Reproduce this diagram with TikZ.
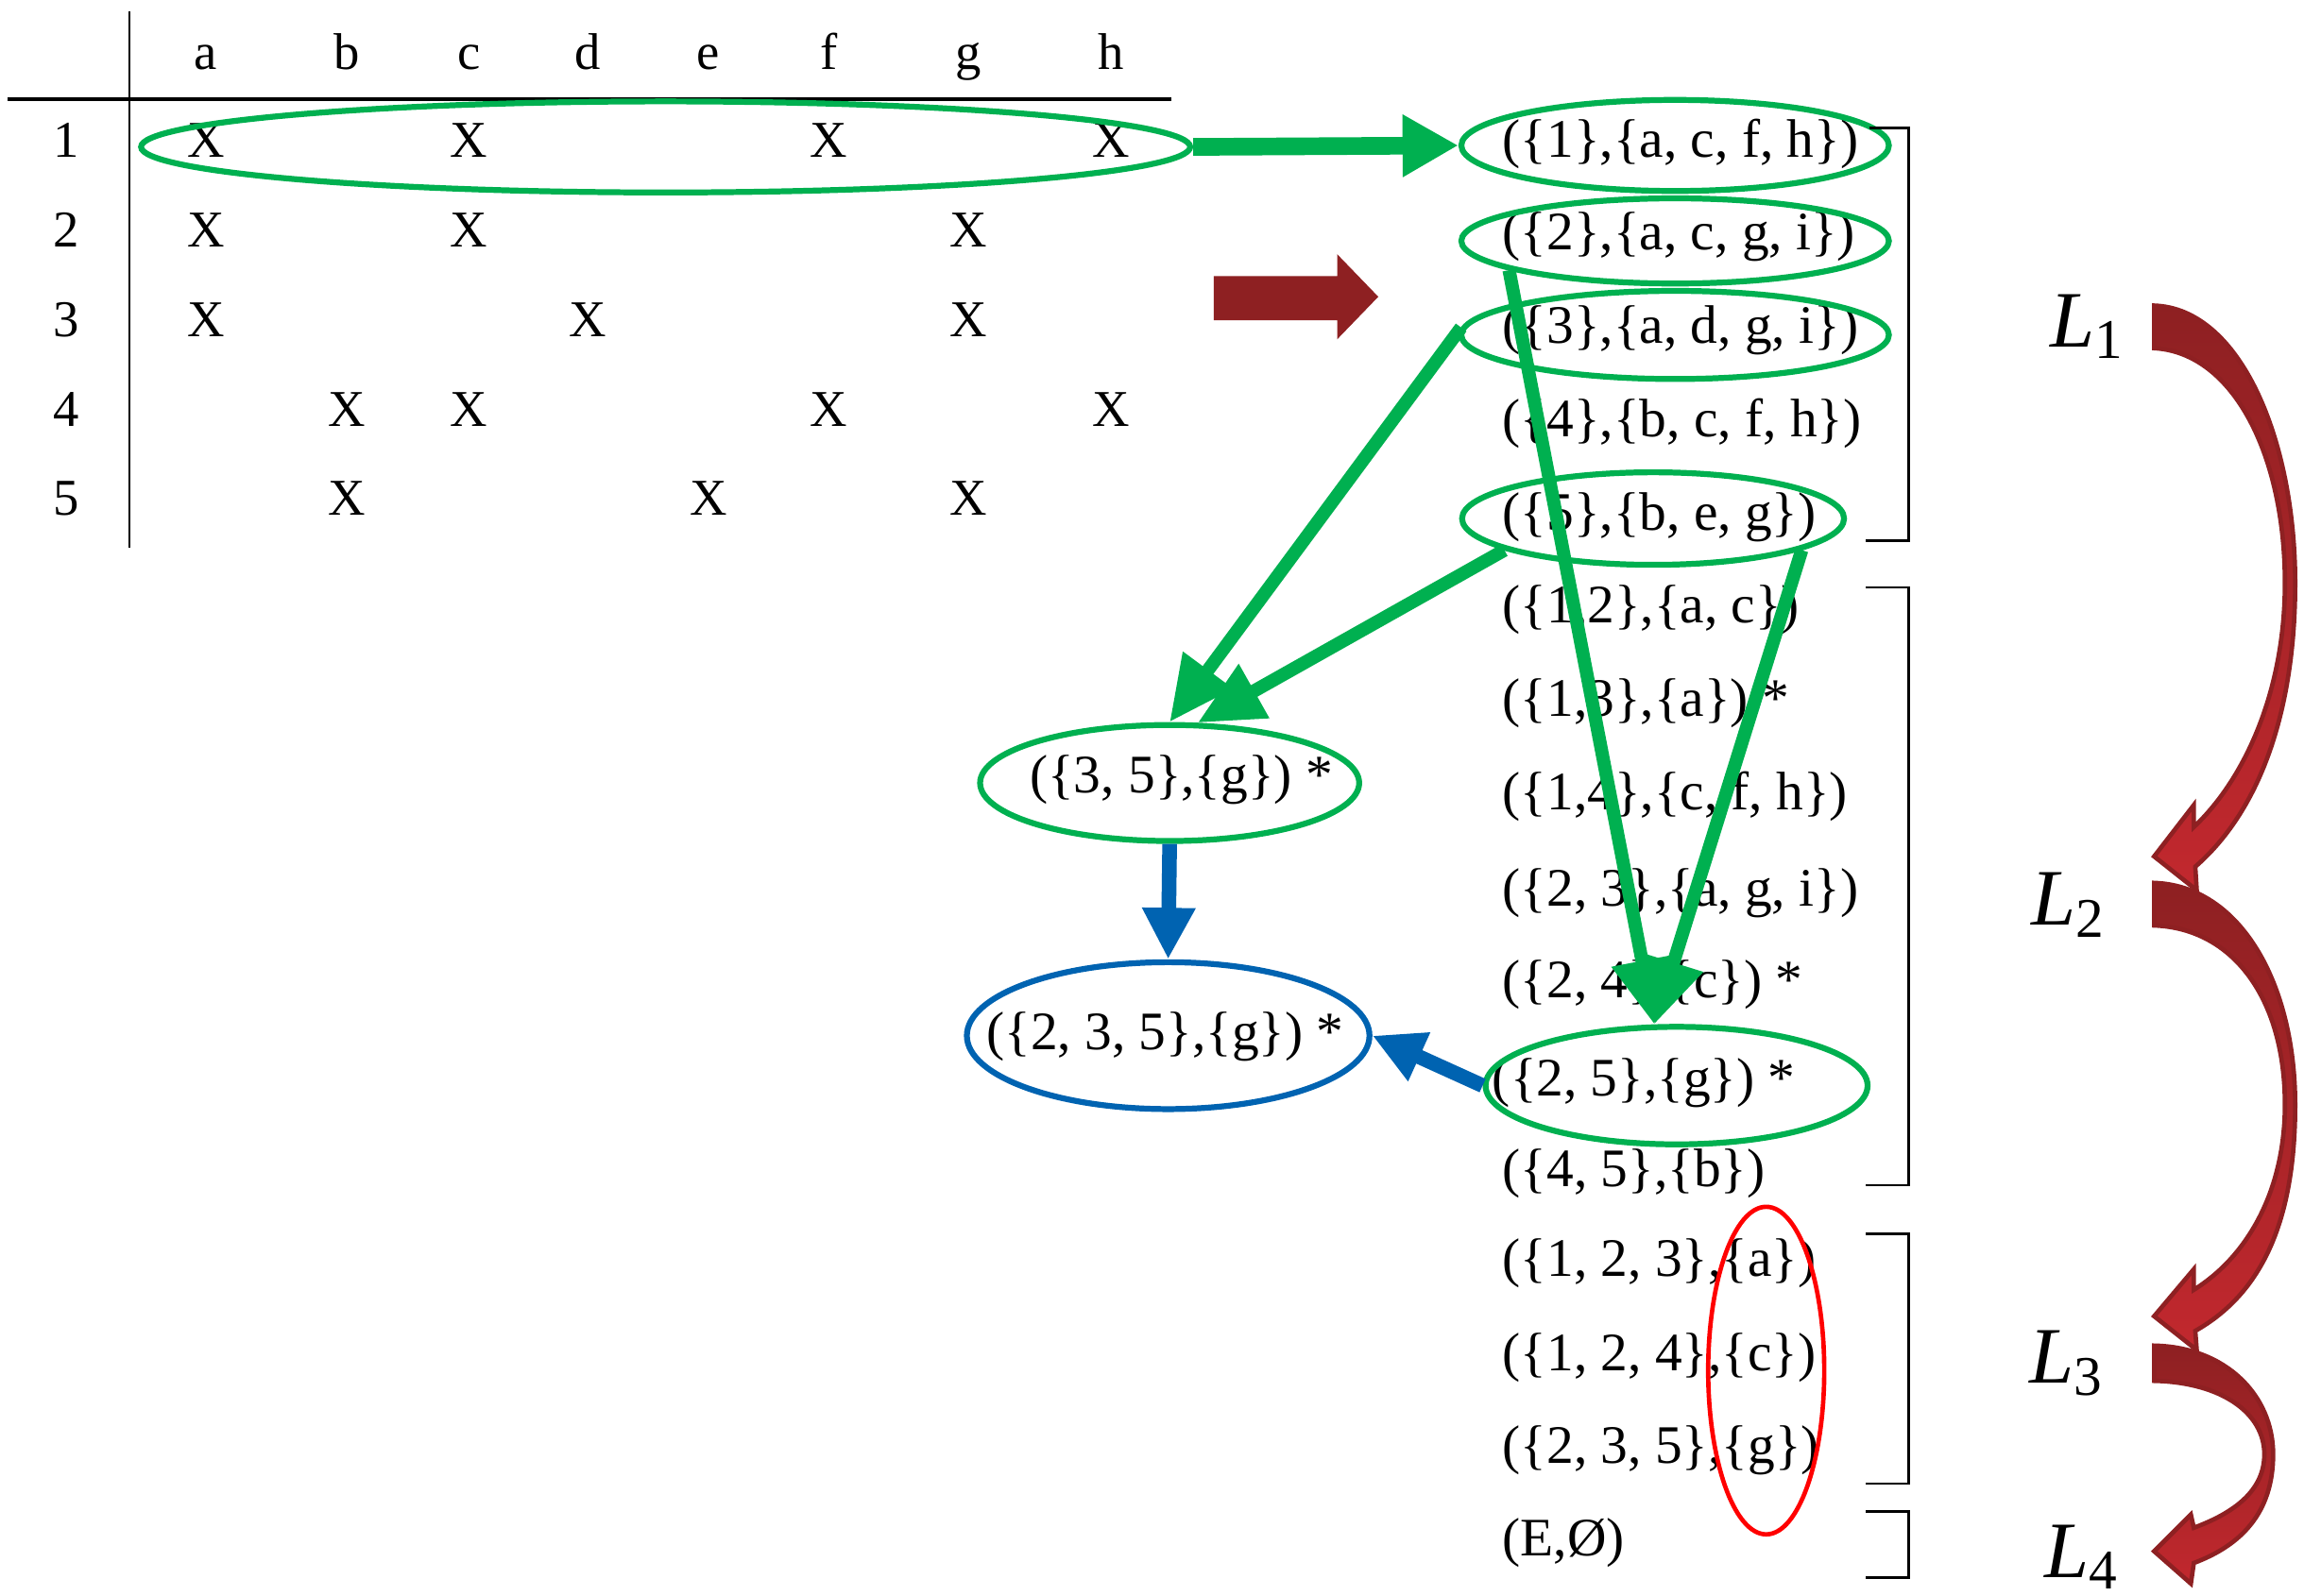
\documentclass[tikz,border=0pt]{standalone}
\usepackage{fontspec}
\setmainfont{Liberation Serif}
\usetikzlibrary{arrows.meta,shapes.geometric}

\definecolor{ringgreen}{RGB}{0,176,80}
\definecolor{ringblue}{RGB}{0,99,177}
\definecolor{levelred}{RGB}{142,32,34}
\definecolor{levellight}{RGB}{194,40,46}

\tikzset{
  cell/.style={font=\fontsize{10}{12}\selectfont, inner sep=0pt, anchor=base},
  item/.style={font=\fontsize{10.5}{12}\selectfont, inner sep=0pt, anchor=west},
  ring/.style={ellipse, draw=ringgreen, line width=0.4mm, inner sep=0pt},
  garrow/.style={draw=ringgreen, line width=0.9mm, -{Triangle[length=4.4mm,width=4mm]}},
  barrow/.style={draw=ringblue, line width=1mm, -{Triangle[length=3.5mm,width=3.4mm]}},
  level/.style={font=\fontsize{15.5}{17}\selectfont, inner sep=0pt},
  bracket/.style={line width=0.15mm},
  levelarrow/.style={draw=levelred, line width=0.3mm, top color=levelred, middle color=levelred, bottom color=levellight}
}

\begin{document}
\begin{tikzpicture}[x=0.1mm,y=-0.1mm]
    \useasboundingbox (0,0) rectangle (1568,1086);
    \draw[line width=0.25mm] (5,67.5) -- (797,67.5);
    \draw[line width=0.15mm] (88,8) -- (88,373);
    \foreach \c/\x in {a/140,b/236,c/319,d/400,e/482,f/564,g/659,h/756}
      \node[cell] (h-\c) at (\x,47) {\c};
    \foreach \r/\y in {1/107,2/168,3/229,4/290,5/351}
      \node[cell] (r-\r) at (45,\y) {\r};
    \foreach \r/\cols in {1/{a,c,f,h},2/{a,c,g},3/{a,d,g},4/{b,c,f,h},5/{b,e,g}}
      \foreach \c in \cols
        \node[cell] (x-\r\c) at (h-\c.base |- r-\r.base) {X};
    \node[ring, minimum width=71.4mm, minimum height=6.2mm] (row1) at (453,100) {};

    \node[item] (s1) at (1022,98) {(\{1\},\{a, c, f, h\})};
    \node[item] (s2) at (1022,161) {(\{2\},\{a, c, g, i\})};
    \node[item] (s3) at (1022,225) {(\{3\},\{a, d, g, i\})};
    \node[item] (s4) at (1022,288) {(\{4\},\{b, c, f, h\})};
    \node[item] (s5) at (1022,352) {(\{5\},\{b, e, g\})};
    \node[item] (s12) at (1022,415) {(\{1,2\},\{a, c\})};
    \node[item] (s13) at (1022,479) {(\{1,3\},\{a\}) *};
    \node[item] (s14) at (1022,542) {(\{1,4\},\{c, f, h\})};
    \node[item] (s23) at (1022,608) {(\{2, 3\},\{a, g, i\})};
    \node[item] (s24) at (1022,670) {(\{2, 4\},\{c\}) *};
    \node[item] (s25) at (1015,737) {(\{2, 5\},\{g\}) *};
    \node[item] (s45) at (1022,799) {(\{4, 5\},\{b\})};
    \node[item] (s123) at (1022,860) {(\{1, 2, 3\},\{a\})};
    \node[item] (s124) at (1022,924) {(\{1, 2, 4\},\{c\})};
    \node[item] (s235) at (1022,987) {(\{2, 3, 5\},\{g\})};
    \node[item] (sE) at (1022,1050) {(E,Ø)};

    \node[item, anchor=center] (t35) at (804,531) {(\{3, 5\},\{g\}) *};
    \node[item, anchor=center] (t235) at (793,706) {(\{2, 3, 5\},\{g\}) *};

    \node[ring, minimum width=29.1mm, minimum height=6.2mm] (e1) at (1140,99) {};
    \node[ring, minimum width=29.1mm, minimum height=5.8mm] (e2) at (1140,164) {};
    \node[ring, minimum width=29.1mm, minimum height=6mm] (e3) at (1140,228) {};
    \node[ring, minimum width=26mm, minimum height=6.3mm] (e5) at (1125,353) {};
    \node[ring, minimum width=26mm, minimum height=8mm] (e25) at (1141,739) {};
    \node[ring, minimum width=25.8mm, minimum height=7.9mm] (e35) at (796,533) {};
    \node[ring, draw=ringblue, minimum width=27.4mm, minimum height=10mm] (e235) at (795,705) {};
    \node[ellipse, draw=red, line width=0.3mm, minimum width=7.9mm, minimum height=22.3mm] (pick) at (1202,933) {};

    \draw[garrow, line width=1.2mm, -{Triangle[length=3.8mm,width=4mm]}] (row1.east) -- (e1.west);
    \draw[garrow] (e2.190) -- (e25.110);
    \draw[garrow] (e5.-12) -- (e25.110);
    \draw[garrow] (e3.178) -- (e35.north);
    \draw[garrow] (e5.192) -- (e35.65);
    \draw[barrow] (e35.south) -- (e235.north);
    \draw[barrow] (e25.west) -- (e235.east);

    \fill[levelred] (826,188) -- (910,188) -- (910,173) -- (938,202) -- (910,231) -- (910,218) -- (826,218) -- cycle;

    \draw[bracket] (1272,87) -- (1299,87) -- (1299,368) -- (1270,368);
    \draw[bracket] (1270,400) -- (1299,400) -- (1299,807) -- (1270,807);
    \draw[bracket] (1270,840) -- (1299,840) -- (1299,1010) -- (1270,1010);
    \draw[bracket] (1270,1029) -- (1299,1029) -- (1299,1074) -- (1270,1074);

    \node[level] (L1) at (1421,222) {\textit{L}\textsubscript{1}};
    \node[level] (L2) at (1408,616) {\textit{L}\textsubscript{2}};
    \node[level] (L3) at (1407,928) {\textit{L}\textsubscript{3}};
    \node[level] (L4) at (1417,1060) {\textit{L}\textsubscript{4}};

    \path[levelarrow] (1466,208) .. controls (1525,210) and (1562,300) .. (1562,397) .. controls (1562,480) and (1540,550) .. (1494,590) -- (1495,606) -- (1466,583) -- (1493,548) -- (1493,563) .. controls (1528,530) and (1555,470) .. (1555,397) .. controls (1555,310) and (1520,240) .. (1466,237) -- cycle;
    \path[levelarrow] (1466,601) .. controls (1525,603) and (1562,670) .. (1562,752) .. controls (1562,830) and (1540,880) .. (1494,906) -- (1495,919) -- (1466,896) -- (1493,864) -- (1493,878) .. controls (1530,855) and (1555,810) .. (1555,752) .. controls (1555,680) and (1520,632) .. (1466,630) -- cycle;
    \path[levelarrow] (1466,916) .. controls (1515,917) and (1547,950) .. (1547,990) .. controls (1547,1030) and (1525,1052) .. (1493,1064) -- (1491,1078) -- (1466,1056) -- (1491,1031) -- (1493,1040) .. controls (1520,1030) and (1541,1015) .. (1541,990) .. controls (1541,962) and (1512,941) .. (1466,940) -- cycle;
\end{tikzpicture}
\end{document}
